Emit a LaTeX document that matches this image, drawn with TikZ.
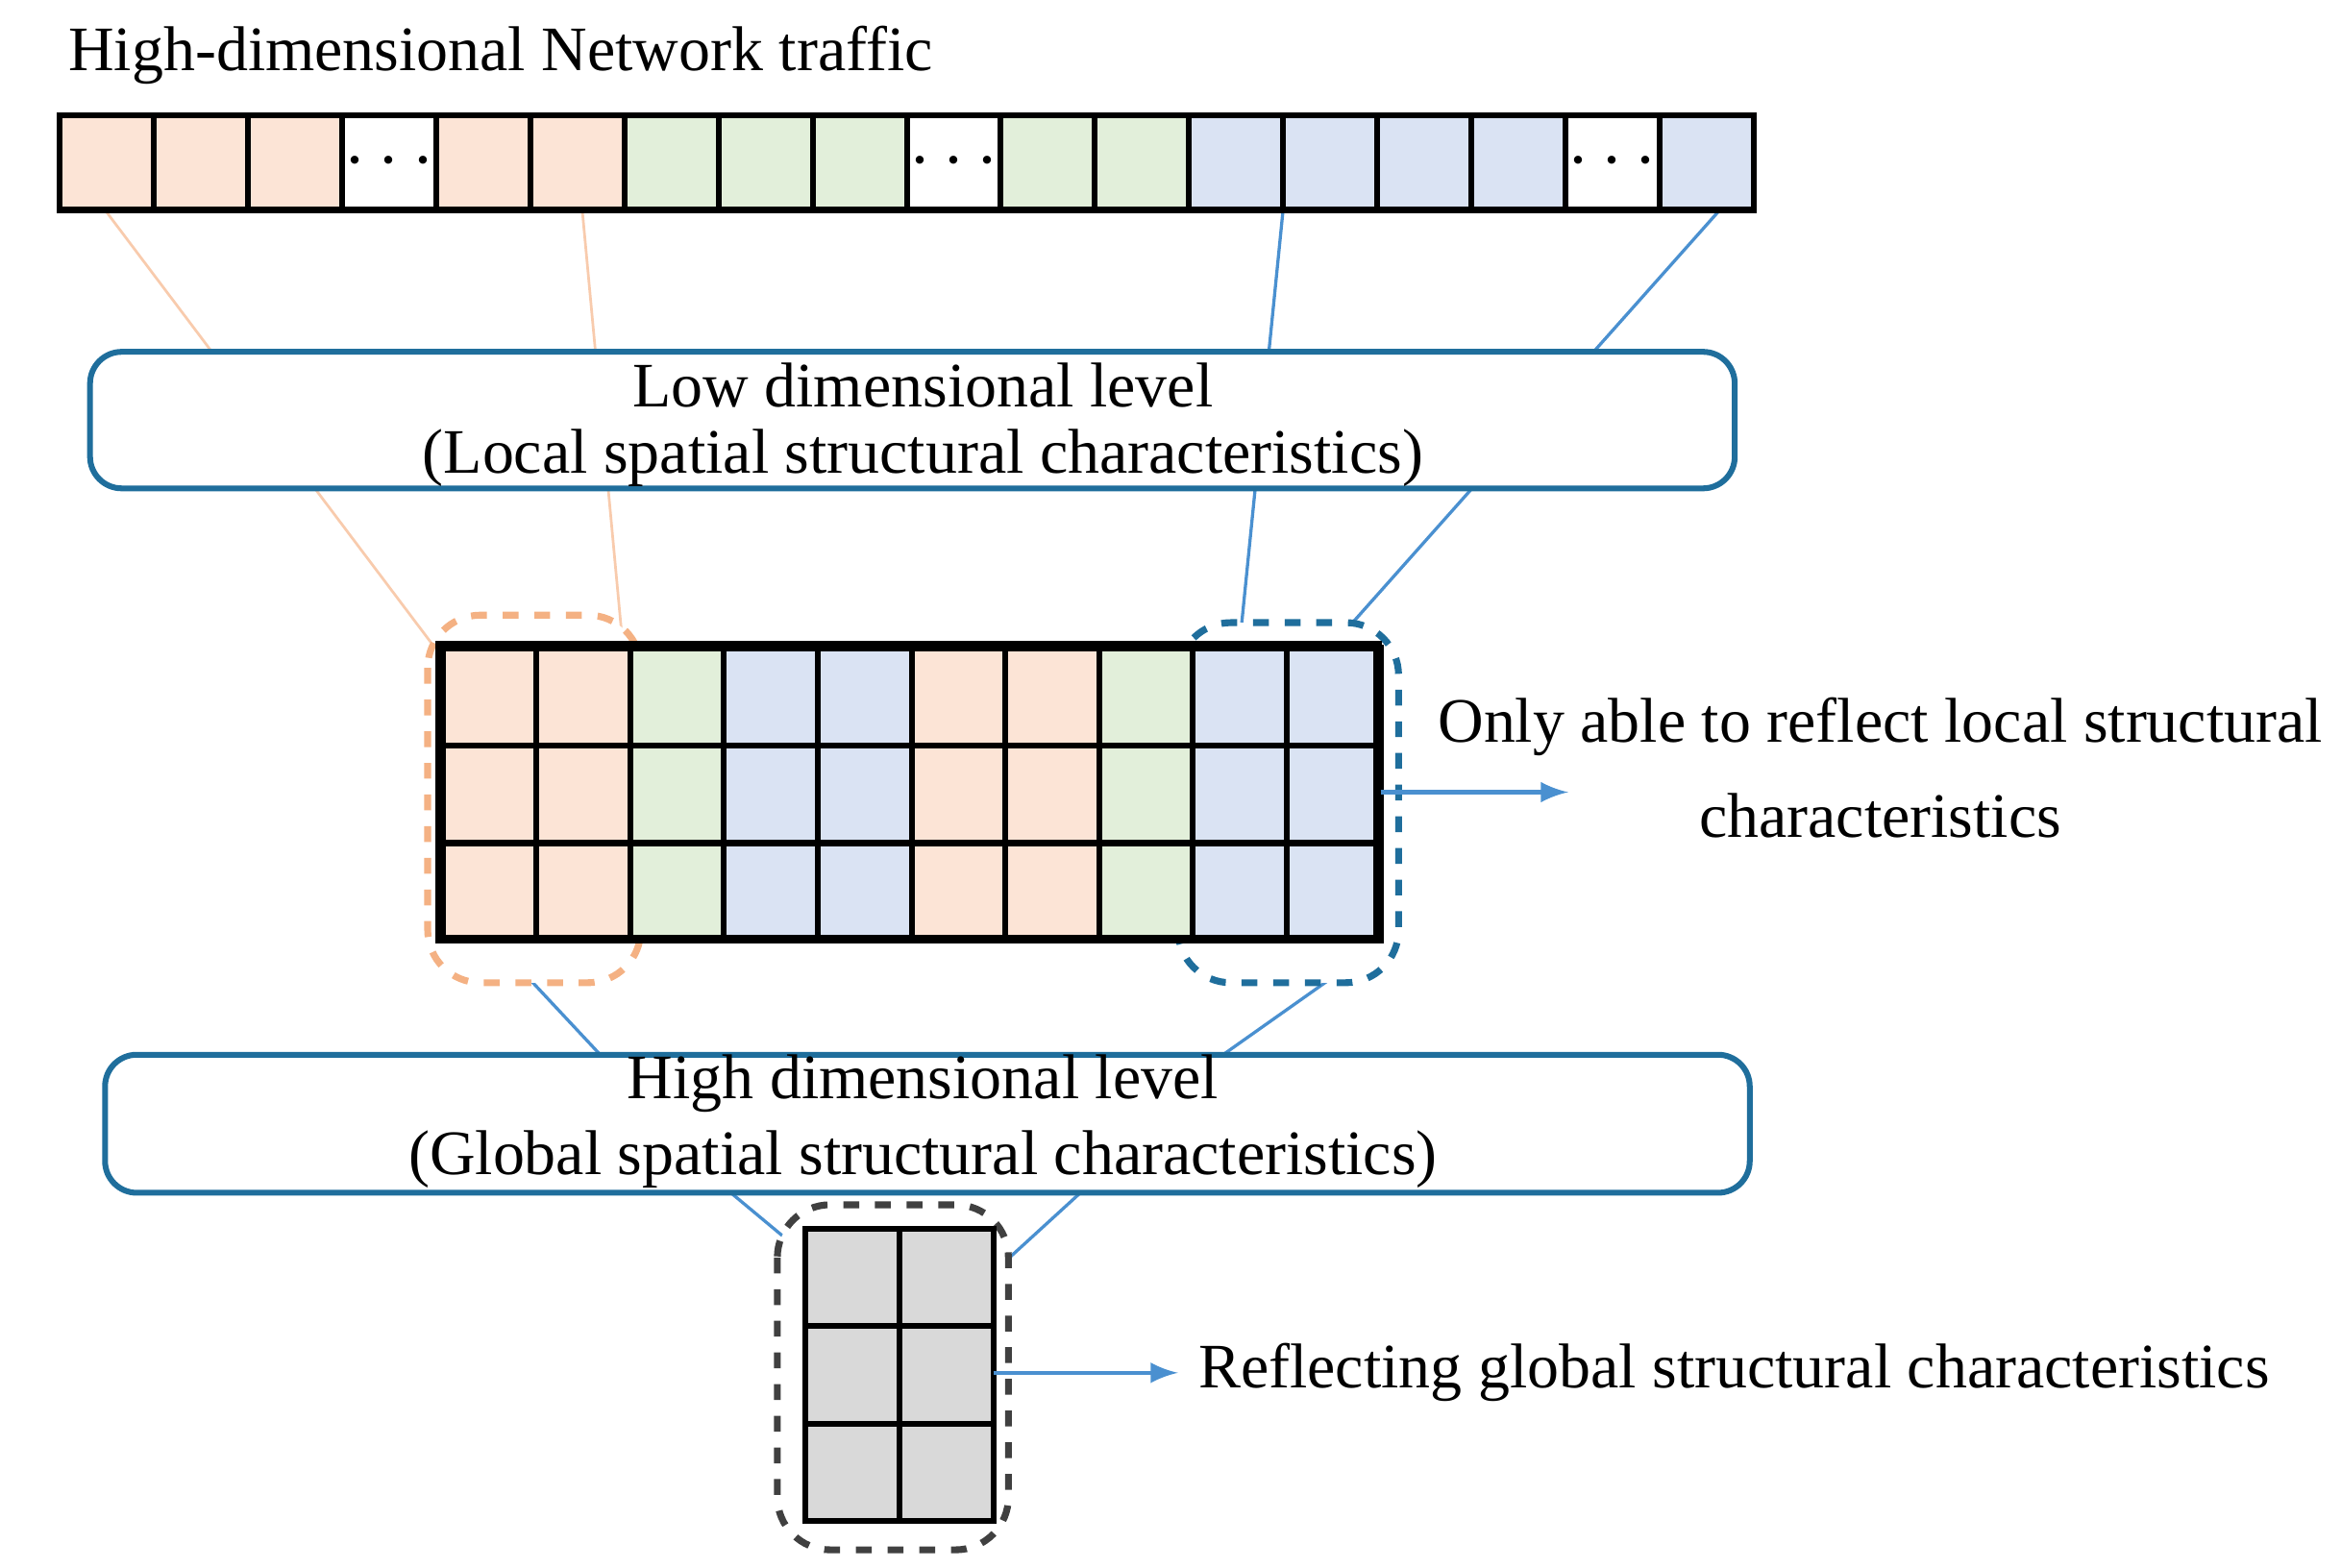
\documentclass[tikz,border=0pt]{standalone}
\usepackage{fontspec}
\setmainfont{Liberation Serif}
\begin{document}
\begin{tikzpicture}[x=0.01cm,y=-0.01cm,
  cell/.style={draw=black,line width=1.1pt},
  lvl/.style={draw=boxb,line width=1.1pt,rounded corners=6pt,fill=white},
  ol/.style={draw=orl,line width=0.5pt},
  bl/.style={draw=bll,line width=0.6pt},
  arr/.style={draw=bll,line width=0.8pt,-latex},
  txt/.style={font=\fontsize{12pt}{14pt}\selectfont,inner sep=0pt}]
\definecolor{cO}{HTML}{FCE4D6}\definecolor{cG}{HTML}{E2EFDA}
\definecolor{cB}{HTML}{DAE3F3}\definecolor{cK}{HTML}{D9D9D9}
\definecolor{cW}{HTML}{FFFFFF}
\definecolor{boxb}{HTML}{1F6E9C}\definecolor{orl}{HTML}{F8CBAD}
\definecolor{ord}{HTML}{F4B183}\definecolor{bll}{HTML}{4A90D0}
\def\wtok{W}
\useasboundingbox (0,0) rectangle (1560,1045);
\node[txt,anchor=west] (title) at (45,37) {High-dimensional Network traffic};
% connectors (behind)
\coordinate (t1) at (70,140);\coordinate (m1) at (287,428);
\coordinate (t2) at (388,140);\coordinate (m2) at (415,430);
\coordinate (t3) at (855,140);\coordinate (m3) at (826,430);
\coordinate (t4) at (1146,140);\coordinate (m4) at (888,430);
\draw[ol] (t1)--(m1); \draw[ol] (t2)--(m2);
\draw[bl] (t3)--(m3); \draw[bl] (t4)--(m4);
\coordinate (b1) at (328,626);\coordinate (h1) at (400,703);
\coordinate (b2) at (890,650);\coordinate (h2) at (815,703);
\coordinate (h3) at (487,795);\coordinate (g1) at (535,835);
\coordinate (h4) at (720,795);\coordinate (g2) at (662,848);
\draw[bl] (b1)--(h1); \draw[bl] (b2)--(h2);
\draw[bl] (h3)--(g1); \draw[bl] (h4)--(g2);
% top row
\foreach \c [count=\i from 0] in {O,O,O,W,O,O,G,G,G,W,G,G,B,B,B,B,W,B}{
  \node[cell,fill=c\c,minimum width=62.7*0.01cm,minimum height=63*0.01cm,anchor=north west,inner sep=0pt] (top\i) at ({38+62.7*\i},75) {\ifx\c\wtok\textbf{\Large$\cdots$}\fi};
}
% low level box
\node[lvl,minimum width=1096*0.01cm,minimum height=91*0.01cm] (low) at (608,280) {};
\node[txt] (lowt1) at (615,257) {Low dimensional level};
\node[txt] (lowt2) at (615,305) {(Local spatial structural characteristics)};
% dashed groups
\draw[draw=ord,dashed,line width=1.3pt,rounded corners=10pt,fill=white] (285,410) rectangle (427,655);
\draw[draw=boxb,dashed,line width=1.3pt,rounded corners=10pt,fill=white] (785,415) rectangle (932,655);
% middle grid
\foreach \c [count=\i from 0] in {O,O,G,B,B,O,O,G,B,B}{
 \foreach \r in {0,1,2}{
  \node[cell,fill=c\c,minimum width=62.5*0.01cm,minimum height=65*0.01cm,anchor=north west,inner sep=0pt] (mid\i\r) at ({293+62.5*\i},{430+65*\r}) {};
 }}
\draw[line width=1.5pt] (293,430) rectangle (918,626);
\draw[arr] (920,528)--(1045,528);
\node[txt,align=center] (only) at (1253,512) {Only able to reflect local structural\\[4pt]characteristics};
% high level box
\node[lvl,minimum width=1096*0.01cm,minimum height=92*0.01cm] (high) at (618,749) {};
\node[txt] (hight1) at (615,722) {High dimensional level};
\node[txt] (hight2) at (615,773) {(Global spatial structural characteristics)};
% gray
\draw[draw=black!75,dashed,line width=1.3pt,rounded corners=10pt,fill=white] (518,803) rectangle (672,1033);
\foreach \i in {0,1}{\foreach \r in {0,1,2}{
  \node[cell,fill=cK,minimum width=62.5*0.01cm,minimum height=65*0.01cm,anchor=north west,inner sep=0pt] (gr\i\r) at ({535+62.5*\i},{817+65*\r}) {};}}
\draw[arr] (662,915)--(785,915);
\node[txt,anchor=west] (refl) at (798,915) {Reflecting global structural characteristics};
\end{tikzpicture}
\end{document}
